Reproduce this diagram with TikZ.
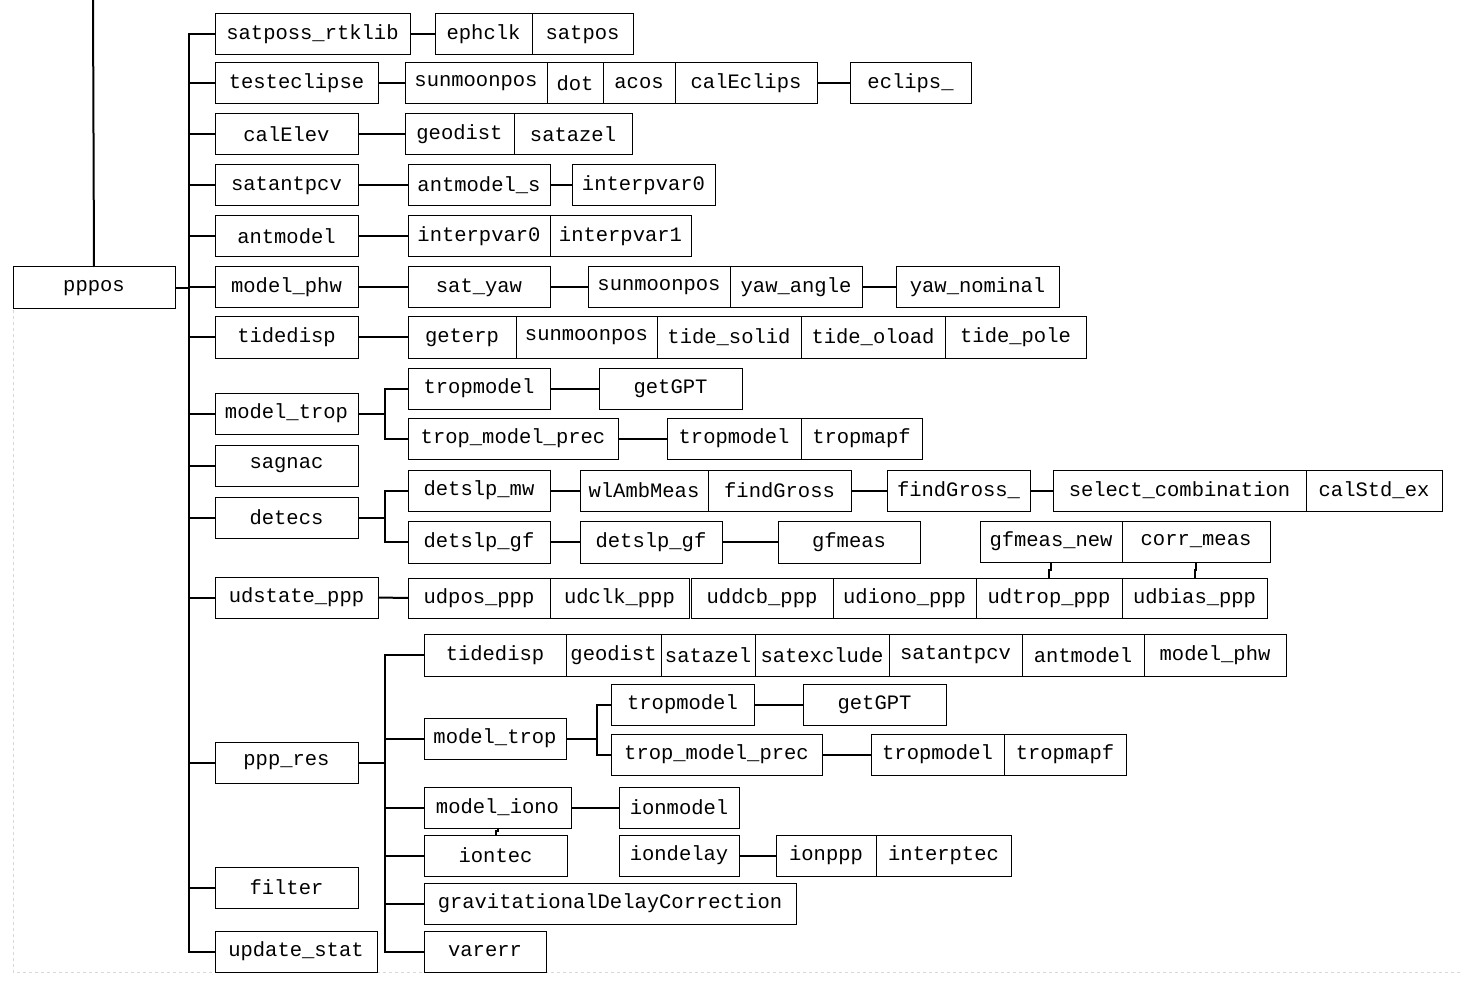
\documentclass[tikz,border=0pt]{standalone}
\usepackage{fontspec}
\setmainfont{Liberation Mono}
\begin{document}
\begin{tikzpicture}[x=1pt,y=-1pt,
 box/.style={draw,line width=1pt,inner sep=0,outer sep=0,font=\fontsize{20.5}{24}\selectfont},
 conn/.style={line width=2pt}]
\useasboundingbox (0,0) rectangle (1461,981);
\draw[gray!30,dashed] (13,310) -- (13,972) -- (1461,972);
\newcommand\bx[6]{\node[box,minimum width={(#4-#2)*1pt},minimum height={(#5-#3)*1pt}] (#1) at ({(#2+#4)/2},{(#3+#5)/2}) {#6};}
% left column
\bx{pppos}{13}{267}{175}{309}{pppos}
\bx{a1}{215}{14}{410}{55}{satposs\_rtklib}
\bx{a2}{215}{63}{378}{104}{testeclipse}
\bx{a3}{215}{114}{358}{155}{calElev}
\bx{a4}{215}{165}{358}{206}{satantpcv}
\bx{a5}{215}{216}{358}{257}{antmodel}
\bx{a6}{215}{267}{358}{308}{model\_phw}
\bx{a7}{215}{317}{358}{358}{tidedisp}
\bx{a8}{215}{393}{358}{434}{model\_trop}
\bx{a9}{215}{445}{358}{486}{sagnac}
\bx{a10}{215}{497}{358}{538}{detecs}
\bx{a11}{215}{577}{378}{618}{udstate\_ppp}
\bx{a12}{215}{742}{358}{783}{ppp\_res}
\bx{a13}{215}{867}{358}{908}{filter}
\bx{a14}{215}{931}{377}{972}{update\_stat}
% rows
\bx{b1}{435}{14}{532}{55}{ephclk}
\bx{b2}{532}{14}{633}{55}{satpos}
\bx{c1}{405}{63}{547}{104}{sunmoonpos}
\bx{c2}{547}{63}{603}{104}{dot}
\bx{c3}{603}{63}{675}{104}{acos}
\bx{c4}{675}{63}{817}{104}{calEclips}
\bx{c5}{850}{63}{971}{104}{eclips\_}
\bx{d1}{405}{114}{514}{155}{geodist}
\bx{d2}{514}{114}{632}{155}{satazel}
\bx{e1}{408}{165}{550}{206}{antmodel\_s}
\bx{e2}{572}{165}{715}{206}{interpvar0}
\bx{f1}{408}{216}{550}{257}{interpvar0}
\bx{f2}{550}{216}{691}{257}{interpvar1}
\bx{g1}{408}{267}{550}{308}{sat\_yaw}
\bx{g2}{588}{267}{730}{308}{sunmoonpos}
\bx{g3}{730}{267}{862}{308}{yaw\_angle}
\bx{g4}{896}{267}{1059}{308}{yaw\_nominal}
\bx{h1}{408}{317}{516}{358}{geterp}
\bx{h2}{516}{317}{657}{358}{sunmoonpos}
\bx{h3}{657}{317}{801}{358}{tide\_solid}
\bx{h4}{801}{317}{945}{358}{tide\_oload}
\bx{h5}{945}{317}{1086}{358}{tide\_pole}
\bx{i1}{408}{368}{550}{409}{tropmodel}
\bx{i2}{599}{368}{742}{409}{getGPT}
\bx{j1}{408}{418}{618}{459}{trop\_model\_prec}
\bx{j2}{667}{418}{801}{459}{tropmodel}
\bx{j3}{801}{418}{922}{459}{tropmapf}
\bx{k1}{408}{470}{550}{511}{detslp\_mw}
\bx{k2}{580}{470}{708}{511}{wlAmbMeas}
\bx{k3}{708}{470}{851}{511}{findGross}
\bx{k4}{887}{470}{1030}{511}{findGross\_}
\bx{k5}{1053}{470}{1306}{511}{select\_combination}
\bx{k6}{1306}{470}{1442}{511}{calStd\_ex}
\bx{l1}{408}{521}{550}{563}{detslp\_gf}
\bx{l2}{580}{521}{722}{563}{detslp\_gf}
\bx{l3}{778}{521}{920}{563}{gfmeas}
\bx{l4}{980}{521}{1122}{562}{gfmeas\_new}
\bx{l5}{1122}{521}{1270}{562}{corr\_meas}
\bx{m1}{408}{578}{550}{618}{udpos\_ppp}
\bx{m2}{550}{578}{689}{618}{udclk\_ppp}
\bx{m3}{691}{578}{833}{618}{uddcb\_ppp}
\bx{m4}{833}{578}{976}{618}{udiono\_ppp}
\bx{m5}{976}{578}{1122}{618}{udtrop\_ppp}
\bx{m6}{1122}{578}{1267}{618}{udbias\_ppp}
\bx{n1}{424}{634}{566}{676}{tidedisp}
\bx{n2}{566}{634}{661}{676}{geodist}
\bx{n3}{661}{634}{755}{676}{satazel}
\bx{n4}{755}{634}{889}{676}{satexclude}
\bx{n5}{889}{634}{1022}{676}{satantpcv}
\bx{n6}{1022}{634}{1144}{676}{antmodel}
\bx{n7}{1144}{634}{1286}{676}{model\_phw}
\bx{o1}{424}{718}{566}{759}{model\_trop}
\bx{o2}{611}{684}{754}{725}{tropmodel}
\bx{o3}{803}{684}{946}{725}{getGPT}
\bx{o4}{611}{734}{822}{775}{trop\_model\_prec}
\bx{o5}{871}{734}{1004}{775}{tropmodel}
\bx{o6}{1004}{734}{1126}{775}{tropmapf}
\bx{p1}{424}{787}{571}{828}{model\_iono}
\bx{p2}{619}{787}{739}{828}{ionmodel}
\bx{q1}{424}{835}{567}{876}{iontec}
\bx{q2}{619}{835}{739}{876}{iondelay}
\bx{q3}{776}{835}{876}{876}{ionppp}
\bx{q4}{876}{835}{1011}{876}{interptec}
\bx{r1}{424}{883}{796}{924}{gravitationalDelayCorrection}
\bx{s1}{424}{931}{546}{972}{varerr}
% connectors
\draw[conn] (93,0) coordinate (top) -- (pppos.north);
\foreach \n in {a1,a2,a3,a4,a5,a6,a7,a8,a9,a10,a11,a12,a13,a14}
  \draw[conn] (pppos.east) -- ++(14,0) |- (\n.west);
\foreach \a/\b in {a1/b1,a2/c1,c4/c5,a3/d1,a4/e1,e1/e2,a5/f1,a6/g1,g1/g2,g3/g4,a7/h1,i1/i2,j1/j2,k1/k2,k3/k4,k4/k5,l1/l2,l2/l3,a11/m1,o2/o3,o4/o5,p1/p2,q2/q3}
  \draw[conn] (\a.east) -- (\b.west);
\foreach \n in {i1,j1} \draw[conn] (a8.east) -- ++(27,0) |- (\n.west);
\foreach \n in {k1,l1} \draw[conn] (a10.east) -- ++(27,0) |- (\n.west);
\foreach \n in {n1,o1,p1,q1,r1,s1} \draw[conn] (a12.east) -- ++(27,0) |- (\n.west);
\foreach \n in {o2,o4} \draw[conn] (o1.east) -- ++(31,0) |- (\n.west);
\draw[conn] (l4.south) -- ++(0,8) -| (m5.north);
\draw[conn] (l5.south) -- ++(0,8) -| (m6.north);
\draw[conn] (p1.south) -- ++(0,3) -| (q1.north);
\end{tikzpicture}
\end{document}
